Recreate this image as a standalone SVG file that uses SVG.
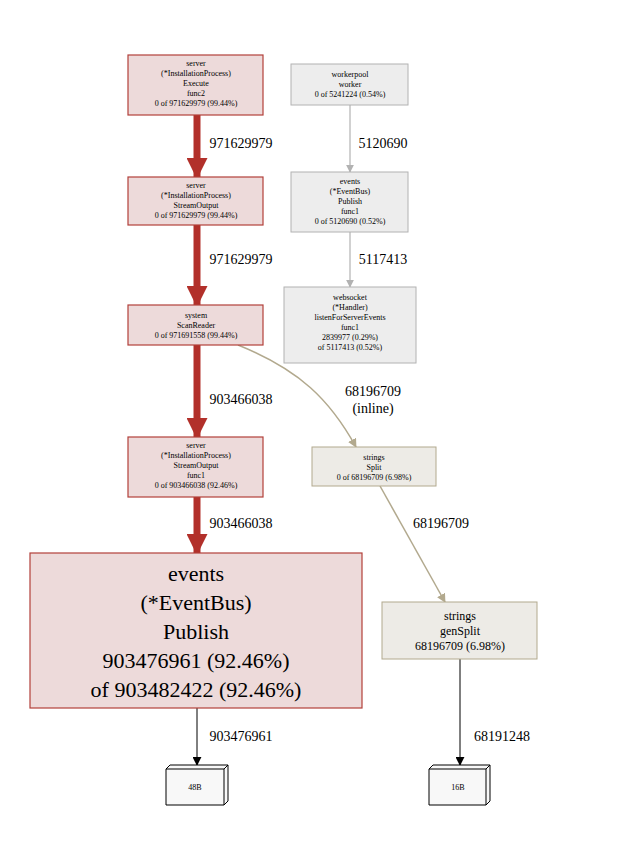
<svg xmlns="http://www.w3.org/2000/svg" width="626" height="850" viewBox="0 0 626 850">
<style>
text{font-family:"Liberation Serif",serif;text-anchor:middle;fill:#000}
.s{font-size:8px}.l{font-size:14px}.b{font-size:22px}.m{font-size:12px}
.red{fill:#eddada;stroke:#b2403a;stroke-width:1.2}
.gr{fill:#ededed;stroke:#b2b2b2;stroke-width:1}
.tan{fill:#edebe6;stroke:#b2a98e;stroke-width:1}
.box{fill:#f8f8f8;stroke:#000;stroke-width:1}
</style>
<defs>
<marker id="ar" viewBox="0 0 10 10" refX="9" refY="5" markerWidth="3" markerHeight="3" orient="auto" markerUnits="strokeWidth"><path d="M0,0L10,5L0,10z" fill="#b2302a"/></marker>
<marker id="ag" viewBox="0 0 10 10" refX="9" refY="5" markerWidth="8" markerHeight="8" orient="auto" markerUnits="userSpaceOnUse"><path d="M0,0L10,5L0,10z" fill="#b2b2b2"/></marker>
<marker id="at" viewBox="0 0 10 10" refX="9" refY="5" markerWidth="9" markerHeight="9" orient="auto" markerUnits="userSpaceOnUse"><path d="M0,0L10,5L0,10z" fill="#b2a98e"/></marker>
<marker id="ak" viewBox="0 0 10 10" refX="9" refY="5" markerWidth="9" markerHeight="9" orient="auto" markerUnits="userSpaceOnUse"><path d="M0,0L10,5L0,10z" fill="#000"/></marker>
</defs>
<rect width="626" height="850" fill="#fff"/>
<g id="edges">
<line x1="197" y1="115" x2="197" y2="177" stroke="#b2302a" stroke-width="7" marker-end="url(#ar)"/>
<line x1="197" y1="225" x2="197" y2="305" stroke="#b2302a" stroke-width="7" marker-end="url(#ar)"/>
<line x1="197" y1="345" x2="197" y2="437" stroke="#b2302a" stroke-width="7" marker-end="url(#ar)"/>
<line x1="197" y1="497" x2="197" y2="553" stroke="#b2302a" stroke-width="7" marker-end="url(#ar)"/>
<line x1="350" y1="105" x2="350" y2="172" stroke="#b2b2b2" stroke-width="1.2" marker-end="url(#ag)"/>
<line x1="350" y1="232" x2="350" y2="287" stroke="#b2b2b2" stroke-width="1.2" marker-end="url(#ag)"/>
<path d="M238,345 C300,370 330,400 356,447" fill="none" stroke="#b2a98e" stroke-width="1.5" marker-end="url(#at)"/>
<line x1="380" y1="486" x2="445" y2="602" stroke="#b2a98e" stroke-width="1.5" marker-end="url(#at)"/>
<line x1="197" y1="708" x2="197" y2="765" stroke="#000" stroke-width="1" marker-end="url(#ak)"/>
<line x1="460" y1="659" x2="460" y2="765" stroke="#000" stroke-width="1" marker-end="url(#ak)"/>
<text class="l" x="241" y="148">971629979</text>
<text class="l" x="241" y="264">971629979</text>
<text class="l" x="241" y="404">903466038</text>
<text class="l" x="241" y="528">903466038</text>
<text class="l" x="383" y="148">5120690</text>
<text class="l" x="383" y="264">5117413</text>
<text class="l" x="373" y="396">68196709</text>
<text class="l" x="373" y="413">(inline)</text>
<text class="l" x="441" y="528">68196709</text>
<text class="l" x="241" y="741">903476961</text>
<text class="l" x="502" y="741">68191248</text>
</g>
<g id="n1"><rect class="red" x="128" y="55" width="135" height="60"/>
<text class="s" x="196" y="66">server</text><text class="s" x="196" y="76">(*InstallationProcess)</text><text class="s" x="196" y="86">Execute</text><text class="s" x="196" y="96">func2</text><text class="s" x="196" y="106">0 of 971629979 (99.44%)</text></g>
<g id="n2"><rect class="red" x="128" y="177" width="135" height="48"/>
<text class="s" x="196" y="188">server</text><text class="s" x="196" y="198">(*InstallationProcess)</text><text class="s" x="196" y="208">StreamOutput</text><text class="s" x="196" y="218">0 of 971629979 (99.44%)</text></g>
<g id="n3"><rect class="red" x="128" y="305" width="135" height="40"/>
<text class="s" x="196" y="318">system</text><text class="s" x="196" y="328">ScanReader</text><text class="s" x="196" y="338">0 of 971691558 (99.44%)</text></g>
<g id="n4"><rect class="red" x="128" y="437" width="135" height="60"/>
<text class="s" x="196" y="448">server</text><text class="s" x="196" y="458">(*InstallationProcess)</text><text class="s" x="196" y="468">StreamOutput</text><text class="s" x="196" y="478">func1</text><text class="s" x="196" y="488">0 of 903466038 (92.46%)</text></g>
<g id="n5"><rect class="red" x="30" y="553" width="332" height="155"/>
<text class="b" x="196" y="581">events</text><text class="b" x="196" y="610">(*EventBus)</text><text class="b" x="196" y="639">Publish</text><text class="b" x="196" y="668">903476961 (92.46%)</text><text class="b" x="196" y="697">of 903482422 (92.46%)</text></g>
<g id="n6"><rect class="gr" x="291" y="64" width="117" height="41"/>
<text class="s" x="350" y="77">workerpool</text><text class="s" x="350" y="87">worker</text><text class="s" x="350" y="97">0 of 5241224 (0.54%)</text></g>
<g id="n7"><rect class="gr" x="291" y="172" width="117" height="60"/>
<text class="s" x="350" y="184">events</text><text class="s" x="350" y="194">(*EventBus)</text><text class="s" x="350" y="204">Publish</text><text class="s" x="350" y="214">func1</text><text class="s" x="350" y="224">0 of 5120690 (0.52%)</text></g>
<g id="n8"><rect class="gr" x="284" y="287" width="132" height="76"/>
<text class="s" x="350" y="300">websocket</text><text class="s" x="350" y="310">(*Handler)</text><text class="s" x="350" y="320">listenForServerEvents</text><text class="s" x="350" y="330">func1</text><text class="s" x="350" y="340">2839977 (0.29%)</text><text class="s" x="350" y="350">of 5117413 (0.52%)</text></g>
<g id="n9"><rect class="tan" x="312" y="447" width="124" height="39"/>
<text class="s" x="374" y="460">strings</text><text class="s" x="374" y="470">Split</text><text class="s" x="374" y="480">0 of 68196709 (6.98%)</text></g>
<g id="n10"><rect class="tan" x="382" y="602" width="155" height="57"/>
<text class="m" x="460" y="620">strings</text><text class="m" x="460" y="635">genSplit</text><text class="m" x="460" y="650">68196709 (6.98%)</text></g>
<g id="n11"><path class="box" d="M166,769 L170,765 L228,765 L228,801 L224,805 L166,805 Z M166,769 L224,769 L224,805 M224,769 L228,765"/>
<text class="s" x="195" y="790">48B</text></g>
<g id="n12"><path class="box" d="M429,769 L433,765 L490,765 L490,801 L486,805 L429,805 Z M429,769 L486,769 L486,805 M486,769 L490,765"/>
<text class="s" x="458" y="790">16B</text></g>
</svg>
